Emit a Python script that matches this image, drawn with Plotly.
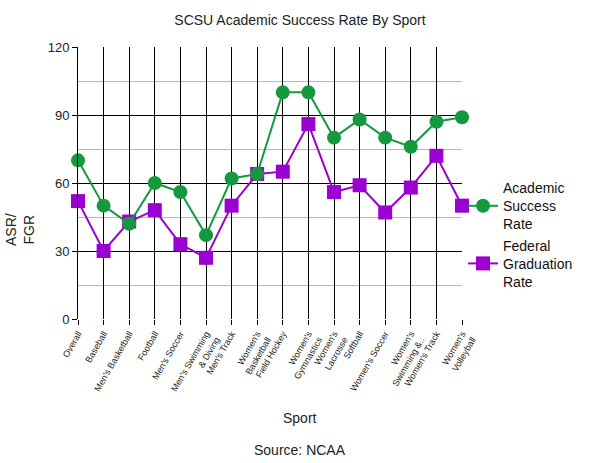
import plotly.graph_objects as go

categories = ["Overall", "Baseball", "Men's Basketball", "Football", "Men's Soccer",
              "Men's Swimming<br>& Diving", "Men's Track", "Women's<br>Basketball",
              "Field Hockey", "Women's<br>Gymnastics", "Women's<br>Lacrosse", "Softball",
              "Women's Soccer", "Women's<br>Swimming &..", "Women's Track",
              "Women's<br>Volleyball"]
asr = [70, 50, 42, 60, 56, 37, 62, 64, 100, 100, 80, 88, 80, 76, 87, 89]
fgr = [52, 30, 43, 48, 33, 27, 50, 64, 65, 86, 56, 59, 47, 58, 72, 50]
y_ticks = [0, 30, 60, 90, 120]

GREEN = "#14993f"
PURPLE = "#9a00cf"
FONT = "Liberation Sans, Arial, sans-serif"

L, R, T, B = 78, 138, 47, 144
PW, PH = 600 - L - R, 463 - T - B

def px_x(x):
    return (x - L) / PW

def px_y(y):
    return (463 - B - y) / PH

fig = go.Figure()
fig.add_trace(go.Scatter(x=categories, y=fgr, mode="lines+markers",
                         name="Federal<br>Graduation<br>Rate",
                         line=dict(color=PURPLE, width=2),
                         marker=dict(symbol="square", size=14, color=PURPLE),
                         cliponaxis=False))
fig.add_trace(go.Scatter(x=categories, y=asr, mode="lines+markers",
                         name="Academic<br>Success<br>Rate",
                         line=dict(color=GREEN, width=2),
                         marker=dict(symbol="circle", size=14, color=GREEN),
                         cliponaxis=False))

fig.update_layout(
    width=600, height=463,
    margin=dict(l=L, r=R, t=T, b=B),
    paper_bgcolor="white", plot_bgcolor="white",
    font=dict(family=FONT, color="#222222", size=13),
    title=dict(text="SCSU Academic Success Rate By Sport", x=0.5, xanchor="center",
               y=1 - 20 / 463, yanchor="middle", font=dict(size=14, color="#222222")),
    legend=dict(x=px_x(463), xanchor="left", y=px_y(172), yanchor="top",
                font=dict(size=14, color="#111111"), bgcolor="rgba(0,0,0,0)",
                traceorder="reversed", itemwidth=30),
    xaxis=dict(type="category", range=[0, len(categories) - 1],
               showgrid=True, gridcolor="black", gridwidth=1,
               ticks="outside", ticklen=5, tickcolor="black",
               tickangle=-60, tickfont=dict(size=9, color="#222222"),
               showline=False, zeroline=False, fixedrange=True),
    yaxis=dict(range=[0, 120], tickvals=y_ticks, showgrid=True, gridcolor="black",
               gridwidth=1, ticks="outside", ticklen=5, tickcolor="black",
               tickfont=dict(size=13, color="#222222"),
               minor=dict(dtick=15, showgrid=True, gridcolor="#b8b8b8", gridwidth=1),
               showline=True, linecolor="black", linewidth=1, zeroline=False),
    annotations=[
        dict(text="ASR/<br>FGR", x=px_x(20), xref="paper", xanchor="center",
             y=px_y(230), yref="paper", yanchor="middle", textangle=-90,
             showarrow=False, font=dict(size=14, color="#222222")),
        dict(text="Sport", x=px_x(300), xref="paper", xanchor="center",
             y=px_y(418), yref="paper", yanchor="middle",
             showarrow=False, font=dict(size=14, color="#222222")),
        dict(text="Source: NCAA", x=px_x(300), xref="paper", xanchor="center",
             y=px_y(450), yref="paper", yanchor="middle",
             showarrow=False, font=dict(size=14, color="#222222")),
    ],
)

fig.write_html("out.html")
